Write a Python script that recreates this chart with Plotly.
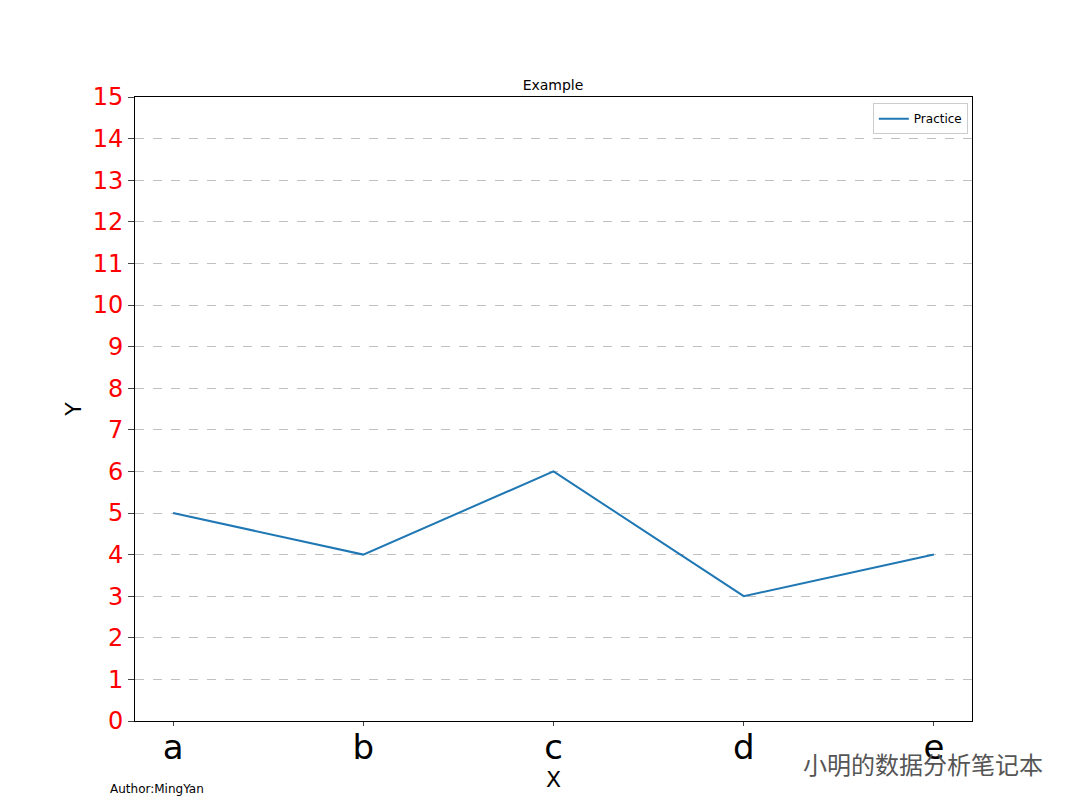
import plotly.graph_objects as go

categories = ["a", "b", "c", "d", "e"]
values = [5, 4, 6, 3, 4]
y_ticks = list(range(0, 16))

fig = go.Figure()
fig.add_trace(go.Scatter(x=list(range(len(categories))), y=values, mode="lines",
                         name="Practice", line=dict(color="#1f77b4", width=2)))

fig.update_layout(
    width=1080, height=810,
    margin=dict(l=127, r=116, t=89, b=97),
    plot_bgcolor="white", paper_bgcolor="white",
    font=dict(family="DejaVu Sans", color="black"),
    title=dict(text="Example", x=545 / 1080, xanchor="center", y=1 - 77 / 810, yanchor="middle",
               font=dict(size=14)),
    showlegend=True,
    legend=dict(x=0.995, y=0.99, xanchor="right", yanchor="top", bordercolor="#cccccc",
                borderwidth=1, font=dict(size=12)),
    xaxis=dict(range=[-0.2, 4.2], tickmode="array", tickvals=list(range(len(categories))),
               ticktext=categories, tickfont=dict(size=34), ticks="outside", ticklen=4,
               ticklabelstandoff=-8,
               showgrid=False, showline=True, linecolor="black", mirror=True, zeroline=False,
               title=dict(text="X", font=dict(size=22), standoff=0)),
    yaxis=dict(range=[0, 15], tickmode="array", tickvals=y_ticks, tickfont=dict(size=24, color="red"),
               ticks="outside", ticklen=6, showgrid=True, gridcolor="#c0c0c0", griddash="dash",
               showline=True, linecolor="black", mirror=True, zeroline=False,
               title=dict(text="Y", font=dict(size=22), standoff=4)),
)
fig.add_annotation(text="Author:MingYan", xref="paper", yref="paper", x=(108 - 135) / 837,
                   y=-(789 - 721) / 624, xanchor="left", yanchor="middle", showarrow=False,
                   font=dict(size=12))
fig.add_annotation(text="小明的数据分析笔记本", xref="paper", yref="paper", x=(1045 - 135) / 837,
                   y=-(763 - 721) / 624, xanchor="right", yanchor="middle", showarrow=False,
                   font=dict(size=24, family="Noto Sans CJK SC", color="#555555"))

fig.write_html("out.html")
